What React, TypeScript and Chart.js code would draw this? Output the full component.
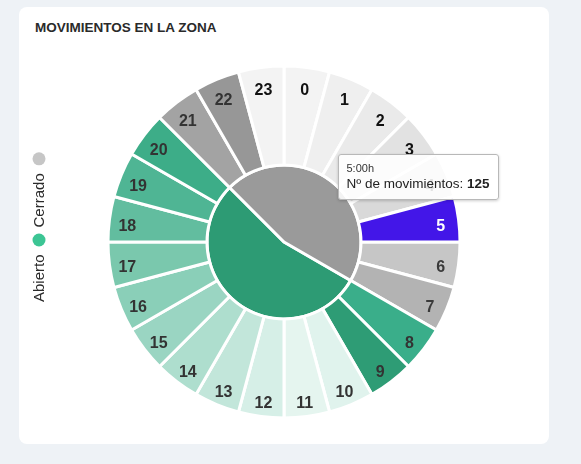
import React, { useEffect, useRef } from "react";
import { Chart, registerables, Tooltip } from "chart.js";

Chart.register(...registerables);

// ---- data ----
const hours = ["0", "1", "2", "3", "4", "5", "6", "7", "8", "9", "10", "11", "12", "13", "14", "15", "16", "17", "18", "19", "20", "21", "22", "23"];
const hourSpan = [1, 1, 1, 1, 1, 1, 1, 1, 1, 1, 1, 1, 1, 1, 1, 1, 1, 1, 1, 1, 1, 1, 1, 1];
const movements = [20, 35, 50, 75, 100, 125, 150, 190, 380, 450, 60, 45, 90, 130, 170, 210, 240, 270, 320, 350, 400, 240, 270, 20];
const statusLabels = ["Abierto", "Cerrado"];
const statusHours = [13, 11];
const activeHour = 5;

// ---- styles ----
const ringColors = [
  "#f3f3f3", "#efefef", "#eaeaea", "#e2e2e2", "#d9d9d9", "#d0d0d0", "#c6c6c6", "#b3b3b3",
  "#3aae8a", "#2e9c75", "#e0f3ed", "#e5f5ef", "#d6efe7", "#c2e6da", "#aedece", "#9ad5c2",
  "#8acfb8", "#7ac8ad", "#62bd9f", "#4fb594", "#3dad88", "#a3a3a3", "#979797", "#f3f3f3",
];
const labelColors = [
  "#111", "#111", "#111", "#111", "#111", "#fff", "#3a3a3a", "#3a3a3a",
  "#333", "#333", "#333", "#333", "#333", "#333", "#333", "#333",
  "#333", "#333", "#333", "#333", "#333", "#333", "#333", "#111",
];
const statusColors = ["#2d9b74", "#9a9a9a"];
const legendColors = ["#3cc594", "#c6c6c6"];
const FONT = '"Liberation Sans", Arial, Helvetica, sans-serif';

(Tooltip as any).positioners.cursor = function (_items: any, pos: any) {
  return pos ? { x: pos.x, y: pos.y } : false;
};

const hourLabelsPlugin = {
  id: "hourLabels",
  afterDatasetsDraw(chart: any) {
    const meta = chart.getDatasetMeta(0);
    const ctx = chart.ctx;
    const active = chart.getActiveElements();
    ctx.save();
    ctx.font = `bold 16px ${FONT}`;
    ctx.textAlign = "center";
    ctx.textBaseline = "middle";
    meta.data.forEach((arc: any, i: number) => {
      const p = arc.getProps(["x", "y", "startAngle", "endAngle", "outerRadius"], true);
      const a = (p.startAngle + p.endAngle) / 2;
      const r = p.outerRadius - 18;
      const isActive = active.some((e: any) => e.datasetIndex === 0 && e.index === i);
      ctx.fillStyle = isActive ? "#ffffff" : labelColors[i];
      ctx.fillText(hours[i], p.x + Math.cos(a) * r, p.y + Math.sin(a) * r + 5);
    });
    ctx.restore();
  },
};

const sideLegendPlugin = {
  id: "sideLegend",
  afterDraw(chart: any) {
    const ctx = chart.ctx;
    ctx.save();
    ctx.font = `15px ${FONT}`;
    ctx.textBaseline = "middle";
    ctx.textAlign = "left";
    const x = 21;
    let y = 295; // bottom start, text runs upward
    statusLabels.forEach((label, i) => {
      const w = ctx.measureText(label).width;
      ctx.save();
      ctx.translate(x, y);
      ctx.rotate(-Math.PI / 2);
      ctx.fillStyle = "#2b2b2b";
      ctx.fillText(label, 0, 0);
      ctx.restore();
      y -= w + 8;
      const rr = 6.5;
      ctx.beginPath();
      ctx.arc(x - 1, y - rr, rr, 0, Math.PI * 2);
      ctx.fillStyle = legendColors[i];
      ctx.fill();
      y -= rr * 2 + 6;
    });
    ctx.restore();
  },
};

export default function App() {
  const canvasRef = useRef<HTMLCanvasElement | null>(null);
  const tipRef = useRef<HTMLDivElement | null>(null);

  useEffect(() => {
    const canvas = canvasRef.current;
    if (!canvas) return;

    const external = (context: any) => {
      const { chart, tooltip } = context;
      const el = tipRef.current;
      if (!el) return;
      if (!tooltip || tooltip.opacity === 0 || !tooltip.dataPoints || !tooltip.dataPoints.length) {
        el.style.display = "none";
        return;
      }
      const i = tooltip.dataPoints[0].dataIndex;
      el.innerHTML = "";
      const t = document.createElement("div");
      t.textContent = `${hours[i]}:00h`;
      t.style.font = `11px ${FONT}`;
      t.style.lineHeight = "14px";
      t.style.color = "#333";
      const b = document.createElement("div");
      b.style.font = `13.5px ${FONT}`;
      b.style.lineHeight = "18px";
      b.style.color = "#222";
      b.style.whiteSpace = "nowrap";
      b.appendChild(document.createTextNode("Nº de movimientos: "));
      const strong = document.createElement("b");
      strong.textContent = String(movements[i]);
      b.appendChild(strong);
      el.appendChild(t);
      el.appendChild(b);
      el.style.display = "block";
      const w = el.offsetWidth;
      const h = el.offsetHeight;
      el.style.left = `${chart.canvas.offsetLeft + tooltip.caretX - w / 2}px`;
      el.style.top = `${chart.canvas.offsetTop + tooltip.caretY - h - 25}px`;
    };

    const chart = new Chart(canvas, {
      type: "doughnut",
      data: {
        labels: hours,
        datasets: [
          {
            label: "Nº de movimientos",
            data: hourSpan,
            backgroundColor: ringColors,
            hoverBackgroundColor: ringColors.map((c, i) => (i === activeHour ? "#4316e8" : c)),
            borderColor: "#ffffff",
            hoverBorderColor: "#ffffff",
            borderWidth: 3,
            hoverBorderWidth: 3,
            hoverOffset: 0,
            weight: 99,
          } as any,
          {
            label: "Estado",
            data: statusHours,
            backgroundColor: statusColors,
            hoverBackgroundColor: statusColors,
            borderColor: "#ffffff",
            hoverBorderColor: "#ffffff",
            borderWidth: 3,
            hoverBorderWidth: 3,
            hoverOffset: 0,
            weight: 77,
            rotation: 120,
          } as any,
        ],
      },
      options: {
        responsive: false,
        animation: false,
        cutout: 0,
        radius: 176,
        layout: { padding: { left: 0, right: 0, top: 50, bottom: 17 } },
        events: [],
        plugins: {
          legend: { display: false },
          title: { display: false },
          tooltip: {
            enabled: false,
            position: "cursor" as any,
            external,
            filter: (item: any) => item.datasetIndex === 0,
          },
        },
      } as any,
      plugins: [hourLabelsPlugin, sideLegendPlugin],
    });

    const act = [{ datasetIndex: 0, index: activeHour }];
    chart.setActiveElements(act);
    chart.tooltip?.setActiveElements(act, { x: 399, y: 218 });
    chart.update();

    return () => {
      chart.destroy();
    };
  }, []);

  return (
    <div style={{ position: "fixed", left: 0, top: 0, width: 581, height: 464, background: "#eef2f6" }}>
      <div
        style={{
          position: "absolute",
          left: 19,
          top: 7,
          width: 530,
          height: 437,
          background: "#ffffff",
          borderRadius: 8,
          overflow: "hidden",
        }}
      >
        <div
          style={{
            position: "absolute",
            left: 16,
            top: 14,
            font: `bold 13.5px ${FONT}`,
            lineHeight: "14px",
            color: "#2a2a2a",
            whiteSpace: "nowrap",
          }}
        >
          MOVIMIENTOS EN LA ZONA
        </div>
        <canvas
          ref={canvasRef}
          width={530}
          height={437}
          style={{ position: "absolute", left: 0, top: 0, width: 530, height: 437 }}
        />
        <div
          ref={tipRef}
          style={{
            position: "absolute",
            display: "none",
            background: "rgba(255,255,255,0.88)",
            border: "1px solid #b8b8b8",
            borderRadius: 3,
            padding: "6px 8px",
            boxShadow: "0 1px 3px rgba(0,0,0,0.2)",
            pointerEvents: "none",
          }}
        />
      </div>
    </div>
  );
}
